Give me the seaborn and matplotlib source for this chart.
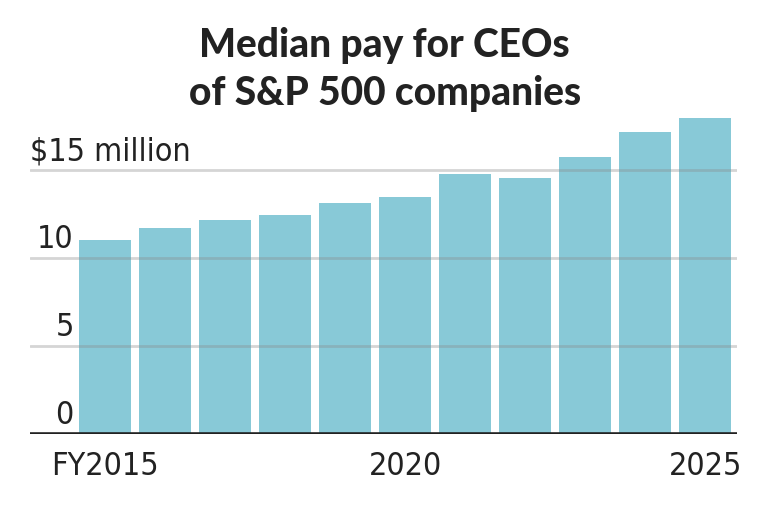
import pandas as pd
import seaborn as sns
from matplotlib import pyplot

years = ['2015', '2016', '2017', '2018', '2019', '2020', '2021', '2022', '2023', '2024', '2025']
pay = [11.0, 11.7, 12.15, 12.45, 13.15, 13.45, 14.75, 14.55, 15.75, 17.15, 17.95]
tick_pos = [0, 5, 10]
tick_labels = ['FY2015', '2020', '2025']
y_ticks = [0, 5, 10, 15]
y_labels = ['0', '5', '10', '$15 million']

sns.set_style('white')
pyplot.rcParams['font.family'] = ['DejaVu Sans']
pyplot.rcParams['font.stretch'] = 'condensed'

df = pd.DataFrame({'year': years, 'pay': pay})

fig = pyplot.figure(figsize=(7.68, 5.12), dpi=100)
ax = fig.add_axes([30 / 768, 1 - 434 / 512, 707 / 768, 18.5 * 17.6 / 512])
sns.barplot(data=df, x='year', y='pay', order=years, color='#88c9d7', saturation=1,
            width=0.867, ax=ax, zorder=1)
for p in ax.patches:
    p.set_edgecolor('none')

ax.set_xlim(-1.25, 10.53)
ax.set_ylim(0, 18.5)
for s in ax.spines.values():
    s.set_visible(False)
for y in y_ticks[1:]:
    ax.axhline(y, color='#888888', alpha=0.35, lw=2, zorder=3)
ax.axhline(0, color='#222222', lw=2.6, zorder=4)

ax.set_yticks([])
ax.set_xticks(tick_pos)
ax.set_xticklabels(tick_labels, fontsize=23, color='#222222')
ax.tick_params(axis='x', length=0, pad=12)
ax.set_xlabel('')
ax.set_ylabel('')

for y, lab in zip(y_ticks, y_labels):
    if y == 15:
        ax.text(-1.25, y + 0.15, lab, ha='left', va='bottom', fontsize=23, color='#222222')
    else:
        ax.text(-0.52, y + 0.15, lab, ha='right', va='bottom', fontsize=23, color='#222222')

fig.text(0.501, 1 - 45 / 512, 'Median pay for CEOs', ha='center', va='center',
         fontsize=28, fontweight='black', family=['Lato', 'DejaVu Sans'],
         stretch='normal', color='#222222')
fig.text(0.501, 1 - 94 / 512, 'of S&P 500 companies', ha='center', va='center',
         fontsize=28, fontweight='black', family=['Lato', 'DejaVu Sans'],
         stretch='normal', color='#222222')

fig.savefig('out.png', dpi=100)
